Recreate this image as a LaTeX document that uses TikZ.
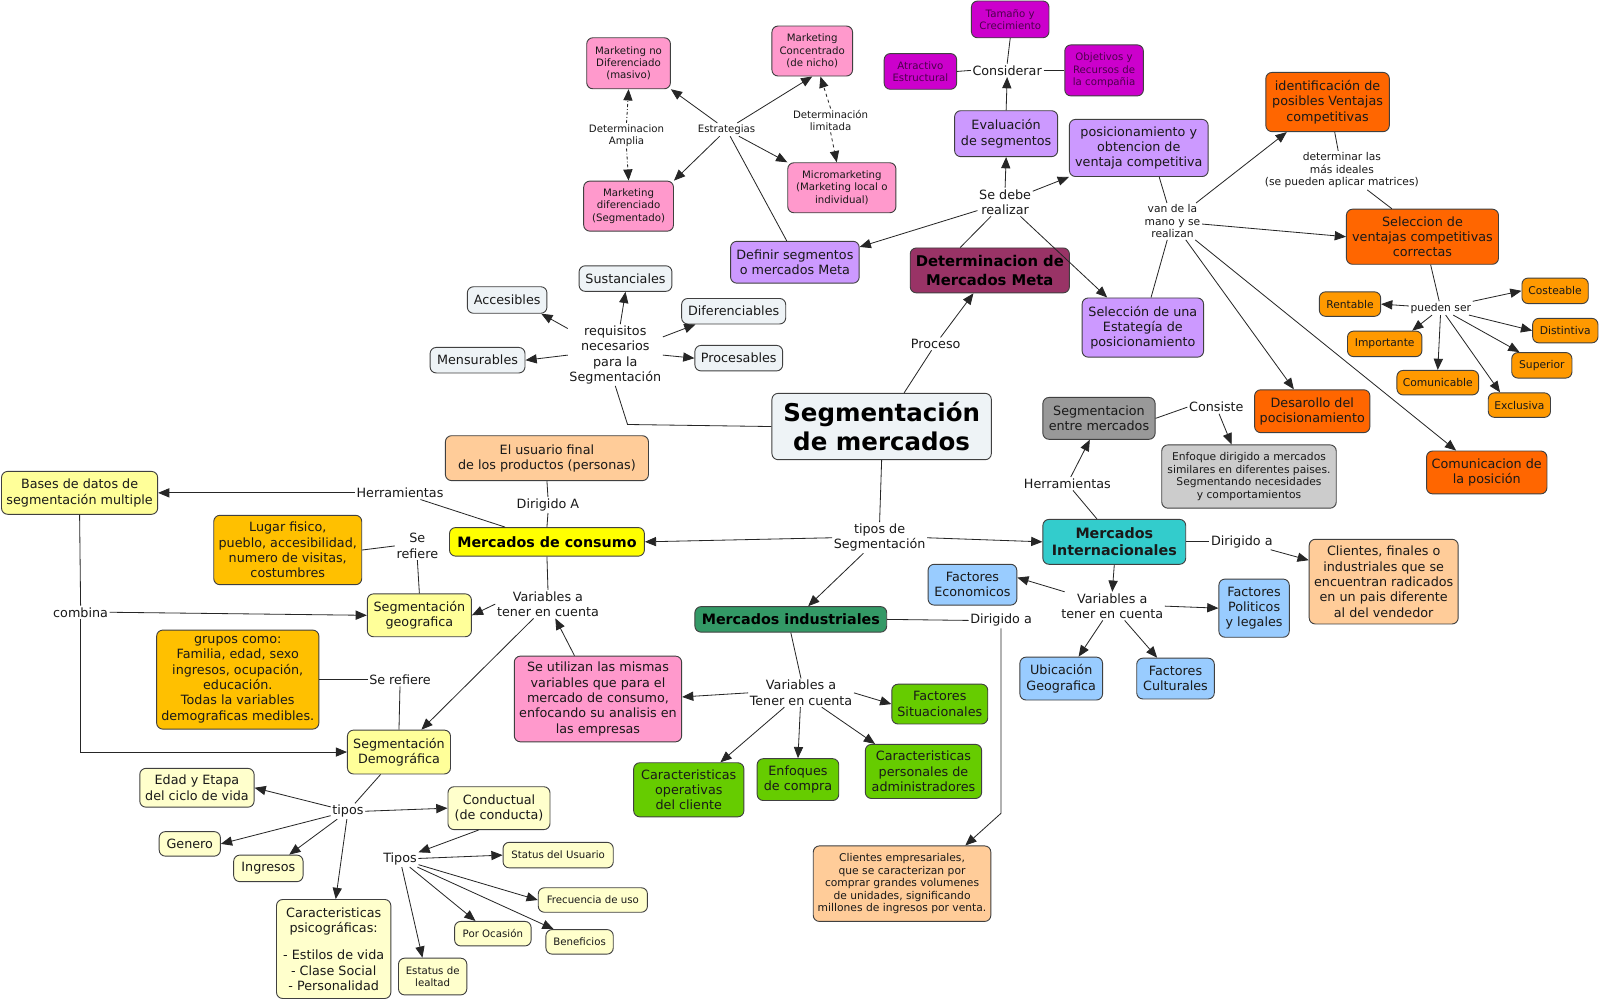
\documentclass[tikz,border=0pt]{standalone}
\usepackage{fontspec}
\setmainfont{DejaVu Sans}
\usetikzlibrary{arrows.meta,calc}
\definecolor{cPink}{HTML}{FF99CC}
\definecolor{cLav}{HTML}{CC99FF}
\definecolor{cMag}{HTML}{CC00CC}
\definecolor{cMagT}{HTML}{4D004D}
\definecolor{cDet}{HTML}{993366}
\definecolor{cLight}{HTML}{EEF3F6}
\definecolor{cOr}{HTML}{FF6600}
\definecolor{cLOr}{HTML}{FF9900}
\definecolor{cGray}{HTML}{999999}
\definecolor{cLGray}{HTML}{CCCCCC}
\definecolor{cTeal}{HTML}{33CCCC}
\definecolor{cPeach}{HTML}{FFCC99}
\definecolor{cLBlue}{HTML}{99CCFF}
\definecolor{cYel}{HTML}{FFFF00}
\definecolor{cLYel}{HTML}{FFFF99}
\definecolor{cAmb}{HTML}{FFC000}
\definecolor{cDGreen}{HTML}{339966}
\definecolor{cGreen}{HTML}{66CC00}
\definecolor{cPYel}{HTML}{FFFFCC}
\newcommand\fA{\fontsize{10}{12}\selectfont}
\newcommand\fB{\fontsize{10.5}{12.3}\selectfont}
\newcommand\fC{\fontsize{12.5}{15}\selectfont}
\newcommand\fE{\bfseries\fontsize{14}{17}\selectfont}
\begin{document}
\begin{tikzpicture}[x=1pt,y=-1pt,
  bx/.style={draw=black!75, rounded corners=6pt, align=center, inner sep=2pt, line width=0.9pt, text=black!90},
  lbl/.style={inner sep=1.5pt, align=center, text=black!90},
  ln/.style={line width=0.8pt, draw=black!85},
  arr/.style={ln, -{Triangle[length=11pt,width=9pt]}},
]
\fill[white] (0,0) rectangle (1568,982);
\useasboundingbox (0,0) rectangle (1568,982);

% ---------- top-left marketing cluster
\node[bx, fill=cPink, minimum width=82pt, minimum height=50pt, font=\fA] (mnd) at (616,62) {Marketing no\\Diferenciado\\(masivo)};
\node[bx, fill=cPink, minimum width=79pt, minimum height=49pt, font=\fA] (mcon) at (796,50) {Marketing\\Concentrado\\(de nicho)};
\node[bx, fill=cPink, minimum width=88pt, minimum height=49pt, font=\fA] (mdif) at (616,202) {Marketing\\diferenciado\\(Segmentado)};
\node[bx, fill=cPink, minimum width=106pt, minimum height=49pt, font=\fA] (micro) at (825,184) {Micromarketing\\(Marketing local o\\individual)};
\node[lbl, font=\fA] (lAmp) at (614,133) {Determinacion\\Amplia};
\node[lbl, font=\fA] (lEst) at (712,127) {Estrategias};
\node[lbl, font=\fA] (lLim) at (814,118) {Determinación\\limitada};

% ---------- evaluation cluster
\node[bx, fill=cMag, text=cMagT, minimum width=76pt, minimum height=36pt, font=\fA] (tam) at (990,19) {Tamaño y\\Crecimiento};
\node[bx, fill=cMag, text=cMagT, minimum width=71pt, minimum height=35pt, font=\fA] (atr) at (902,70) {Atractivo\\Estructural};
\node[lbl, font=\fC] (cons) at (987,69) {Considerar};
\node[bx, fill=cMag, text=cMagT, minimum width=77pt, minimum height=50pt, font=\fA] (obj) at (1082,69) {Objetivos y\\Recursos de\\la compañia};
\node[bx, fill=cLav, minimum width=101pt, minimum height=45pt, font=\fC] (eval) at (986,131) {Evaluación\\de segmentos};
\node[bx, fill=cLav, minimum width=136pt, minimum height=56pt, font=\fC] (pos) at (1116,145) {posicionamiento y\\obtencion de\\ventaja competitiva};
\node[lbl, font=\fC] (sdr) at (985,198) {Se debe\\realizar};
\node[bx, fill=cLav, minimum width=126pt, minimum height=41pt, font=\fC] (def) at (779,257) {Definir segmentos\\o mercados Meta};
\node[bx, fill=cDet, text=black, minimum width=156pt, minimum height=44pt, font=\bfseries\fontsize{14.5}{18}\selectfont] (det) at (970,265) {Determinacion de\\Mercados Meta};
\node[bx, fill=cLav, minimum width=119pt, minimum height=58pt, font=\fC] (sel) at (1120,321) {Selección de una\\Estategía de\\posicionamiento};

% ---------- right positioning cluster
\node[bx, fill=cOr, minimum width=121pt, minimum height=58pt, font=\fC] (ident) at (1301,100) {identificación de\\posibles Ventajas\\competitivas};
\node[lbl, font=\fB] (ldet) at (1315,167) {determinar las\\más ideales\\(se pueden aplicar matrices)};
\node[lbl, font=\fB] (van) at (1149,217) {van de la\\mano y se\\realizan};
\node[bx, fill=cOr, minimum width=149pt, minimum height=54pt, font=\fC] (selv) at (1394,232) {Seleccion de\\ventajas competitivas\\correctas};
\node[bx, fill=cLOr, minimum width=60pt, minimum height=24pt, font=\fB] (rent) at (1323,298) {Rentable};
\node[lbl, font=\fB] (pds) at (1412,302) {pueden ser};
\node[bx, fill=cLOr, minimum width=65pt, minimum height=25pt, font=\fB] (cost) at (1524,285) {Costeable};
\node[bx, fill=cLOr, minimum width=64pt, minimum height=24pt, font=\fB] (dist) at (1534,324) {Distintiva};
\node[bx, fill=cLOr, minimum width=73pt, minimum height=25pt, font=\fB] (imp) at (1357,337) {Importante};
\node[bx, fill=cLOr, minimum width=59pt, minimum height=25pt, font=\fB] (sup) at (1511,358) {Superior};
\node[bx, fill=cLOr, minimum width=80pt, minimum height=24pt, font=\fB] (comu) at (1409,375) {Comunicable};
\node[bx, fill=cLOr, minimum width=61pt, minimum height=24pt, font=\fB] (excl) at (1489,397) {Exclusiva};
\node[bx, fill=cOr, minimum width=113pt, minimum height=42pt, font=\fC] (desa) at (1286,403) {Desarollo del\\pocisionamiento};
\node[bx, fill=cOr, minimum width=118pt, minimum height=42pt, font=\fC] (comp) at (1457,463) {Comunicacion de\\la posición};

% ---------- international markets
\node[bx, fill=cGray, minimum width=110pt, minimum height=41pt, font=\fC] (sem) at (1077,410) {Segmentacion\\entre mercados};
\node[lbl, font=\fC] (lcons) at (1192,399) {Consiste};
\node[bx, fill=cLGray, minimum width=171pt, minimum height=62pt, font=\fB] (enf) at (1224,467) {Enfoque dirigido a mercados\\similares en diferentes paises.\\Segmentando necesidades\\y comportamientos};
\node[lbl, font=\fC] (lher2) at (1046,474) {Herramientas};
\node[bx, fill=cTeal, minimum width=140pt, minimum height=44pt, font=\fE] (mi) at (1092,531) {Mercados\\Internacionales};
\node[lbl, font=\fC] (ldir2) at (1217,531) {Dirigido a};
\node[bx, fill=cPeach, minimum width=146pt, minimum height=83pt, font=\fC] (clf) at (1356,570) {Clientes, finales o\\industriales que se\\encuentran radicados\\en un pais diferente\\al del vendedor};
\node[bx, fill=cLBlue, minimum width=87pt, minimum height=40pt, font=\fC] (feco) at (953,573) {Factores\\Economicos};
\node[lbl, font=\fC] (lvar3) at (1090,594) {Variables a\\tener en cuenta};
\node[bx, fill=cLBlue, minimum width=69pt, minimum height=57pt, font=\fC] (fpol) at (1229,596) {Factores\\Politicos\\y legales};
\node[bx, fill=cLBlue, minimum width=81pt, minimum height=42pt, font=\fC] (ubi) at (1040,665) {Ubicación\\Geografica};
\node[bx, fill=cLBlue, minimum width=76pt, minimum height=40pt, font=\fC] (fcul) at (1152,665) {Factores\\Culturales};

% ---------- center
\node[bx, fill=cLight, text=black, minimum width=215pt, minimum height=65pt, font=\bfseries\fontsize{24}{28}\selectfont] (central) at (864,418) {Segmentación\\de mercados};
\node[lbl, font=\fC] (lpro) at (917,337) {Proceso};
\node[lbl, font=\fC] (req) at (603,348) {requisitos\\necesarios\\para la\\Segmentación};
\node[bx, fill=cLight, minimum width=91pt, minimum height=25pt, font=\fC] (sus) at (613,273) {Sustanciales};
\node[bx, fill=cLight, minimum width=78pt, minimum height=26pt, font=\fC] (acc) at (497,294) {Accesibles};
\node[bx, fill=cLight, minimum width=102pt, minimum height=25pt, font=\fC] (dif) at (719,305) {Diferenciables};
\node[bx, fill=cLight, minimum width=93pt, minimum height=25pt, font=\fC] (men) at (468,353) {Mensurables};
\node[bx, fill=cLight, minimum width=86pt, minimum height=25pt, font=\fC] (proc) at (724,351) {Procesables};
\node[lbl, font=\fC] (ltip) at (862,527) {tipos de\\Segmentación};

% ---------- consumer markets
\node[bx, fill=cYel, text=black, minimum width=191pt, minimum height=28pt, font=\fE] (mc) at (536,531) {Mercados de consumo};
\node[bx, fill=cPeach, minimum width=199pt, minimum height=44pt, font=\fC] (usu) at (536,449) {El usuario final\\de los productos (personas)};
\node[lbl, font=\fC] (ldirA) at (537,495) {Dirigido A};
\node[lbl, font=\fC] (lher1) at (392,483) {Herramientas};
\node[bx, fill=cLYel, minimum width=153pt, minimum height=42pt, font=\fC] (bases) at (78,483) {Bases de datos de\\segmentación multiple};
\node[bx, fill=cAmb, minimum width=145pt, minimum height=68pt, font=\fC] (lug) at (282,539) {Lugar fisico,\\pueblo, accesibilidad,\\numero de visitas,\\costumbres};
\node[lbl, font=\fC] (lsr1) at (409,535) {Se\\refiere};
\node[bx, fill=cLYel, minimum width=102pt, minimum height=42pt, font=\fC] (geo) at (411,603) {Segmentación\\geografica};
\node[lbl, font=\fC] (lvar1) at (537,592) {Variables a\\tener en cuenta};
\node[lbl, font=\fC] (lcomb) at (79,600) {combina};
\node[bx, fill=cAmb, minimum width=159pt, minimum height=97pt, font=\fC] (grp) at (233,666) {grupos como:\\Familia, edad, sexo\\ingresos, ocupación,\\educación.\\Todas la variables\\demograficas medibles.};
\node[lbl, font=\fC] (lsr2) at (392,666) {Se refiere};
\node[bx, fill=cPink, minimum width=164pt, minimum height=84pt, font=\fC] (util) at (586,685) {Se utilizan las mismas\\variables que para el\\mercado de consumo,\\enfocando su analisis en\\las empresas};
\node[bx, fill=cLYel, minimum width=101pt, minimum height=43pt, font=\fC] (dem) at (391,737) {Segmentación\\Demográfica};

% ---------- industrial markets
\node[bx, fill=cDGreen, text=black, minimum width=188pt, minimum height=25pt, font=\fE] (mind) at (775,607) {Mercados industriales};
\node[lbl, font=\fC] (ldir3) at (981,608) {Dirigido a};
\node[lbl, font=\fC] (lvar2) at (785,679) {Variables a\\Tener en cuenta};
\node[bx, fill=cGreen, minimum width=94pt, minimum height=39pt, font=\fC] (fsit) at (921,690) {Factores\\Situacionales};
\node[bx, fill=cGreen, minimum width=108pt, minimum height=53pt, font=\fC] (cop) at (675,774) {Caracteristicas\\operativas\\del cliente};
\node[bx, fill=cGreen, minimum width=80pt, minimum height=41pt, font=\fC] (enfc) at (782,764) {Enfoques\\de compra};
\node[bx, fill=cGreen, minimum width=114pt, minimum height=53pt, font=\fC] (cper) at (905,756) {Caracteristicas\\personales de\\administradores};
\node[bx, fill=cPeach, minimum width=174pt, minimum height=74pt, font=\fB] (cemp) at (884,866) {Clientes empresariales,\\que se caracterizan por\\comprar grandes volumenes\\de unidades, significando\\millones de ingresos por venta.};

% ---------- demographic details
\node[bx, fill=cPYel, minimum width=112pt, minimum height=38pt, font=\fC] (edad) at (193,772) {Edad y Etapa\\del ciclo de vida};
\node[lbl, font=\fC] (ltipos) at (341,795) {tipos};
\node[bx, fill=cPYel, minimum width=100pt, minimum height=42pt, font=\fC] (cond) at (489,792) {Conductual\\(de conducta)};
\node[bx, fill=cPYel, minimum width=60pt, minimum height=24pt, font=\fC] (gen) at (186,827) {Genero};
\node[bx, fill=cPYel, minimum width=68pt, minimum height=26pt, font=\fC] (ing) at (263,851) {Ingresos};
\node[lbl, font=\fC] (lTipos) at (392,842) {Tipos};
\node[bx, fill=cPYel, minimum width=108pt, minimum height=25pt, font=\fA] (stat) at (547,838) {Status del Usuario};
\node[bx, fill=cPYel, minimum width=107pt, minimum height=24pt, font=\fA] (frec) at (581,882) {Frecuencia de uso};
\node[bx, fill=cPYel, minimum width=75pt, minimum height=24pt, font=\fA] (oca) at (483,915) {Por Ocasión};
\node[bx, fill=cPYel, minimum width=66pt, minimum height=24pt, font=\fA] (ben) at (568,923) {Beneficios};
\node[bx, fill=cPYel, minimum width=112pt, minimum height=97pt, font=\fC] (psi) at (327,930) {Caracteristicas\\psicográficas:\\[12pt]- Estilos de vida\\- Clase Social\\- Personalidad};
\node[bx, fill=cPYel, minimum width=67pt, minimum height=36pt, font=\fA] (leal) at (424,957) {Estatus de\\lealtad};

% ================= connectors
% marketing strategies
\draw[ln] ($(def.north)+(-8,0)$) -- (lEst);
\draw[arr] (lEst) -- (mnd.south east);
\draw[arr] (lEst) -- (mcon.south);
\draw[arr] (lEst) -- (mdif.north east);
\draw[arr] (lEst) -- (micro.north west);
\draw[arr, dash dot] (lAmp.north) -- (mnd.south);
\draw[arr, dash dot] (lAmp.south) -- (mdif.north);
\draw[arr, dashed] (lLim.north) -- ($(mcon.south)+(8,0)$);
\draw[arr, dashed] (lLim.south) -- ($(micro.north)+(-5,0)$);

% evaluation
\draw[ln] (tam.south) -- (cons.north);
\draw[ln] (atr.east) -- (cons.west);
\draw[ln] (cons.east) -- (obj.west);
\draw[arr] (eval.north) -- (cons.south);
\draw[ln] ($(det.north)+(-29,0)$) -- (sdr);
\draw[arr] (sdr.north) -- (eval.south);
\draw[arr] (sdr) -- ($(def.east)+(0,-15)$);
\draw[arr] (sdr) -- (pos.south west);
\draw[arr] (sdr) -- ($(sel.north west)+(25,0)$);
\draw[ln] ($(central.north)+(22,0)$) -- (lpro);
\draw[arr] (lpro) -- ($(det.south)+(-16,0)$);

% positioning
\draw[ln] ($(pos.south)+(20,0)$) -- (van);
\draw[ln] ($(sel.north)+(8,0)$) -- (van);
\draw[arr] (van) -- ($(ident.south west)+(21,0)$);
\draw[arr] (van) -- (selv.west);
\draw[arr] (van) -- ($(desa.north)+(-18,0)$);
\draw[arr] (van) -- ($(comp.north)+(-30,0)$);
\draw[ln] ($(ident.south)+(7,0)$) -- (ldet);
\draw[ln] (ldet) -- ($(selv.north)+(-30,0)$);
\draw[ln] ($(selv.south)+(8,0)$) -- (pds);
\draw[arr] (pds) -- (rent.east);
\draw[arr] (pds) -- (cost.west);
\draw[arr] (pds) -- (dist.west);
\draw[arr] (pds) -- ($(imp.north east)+(-10,0)$);
\draw[arr] (pds) -- ($(sup.north west)+(8,0)$);
\draw[arr] (pds) -- (comu.north);
\draw[arr] (pds) -- ($(excl.north west)+(12,0)$);

% requirements
\coordinate (b1) at (615,416);
\draw[ln] (central.west) -- (b1) -- (req.south);
\draw[arr] (req) -- (sus.south);
\draw[arr] (req) -- ($(acc.south east)+(-6,0)$);
\draw[arr] (req) -- ($(dif.south west)+(14,0)$);
\draw[arr] (req.west) -- (men.east);
\draw[arr] (req.east) -- (proc.west);

% types of segmentation
\draw[ln] (central.south) -- (ltip.north);
\draw[arr] (ltip.west) -- (mc.east);
\draw[arr] (ltip.east) -- (mi.west);
\draw[arr] (ltip) -- ($(mind.north)+(17,0)$);

% international
\draw[ln] ($(mi.north)+(-17,0)$) -- (lher2);
\draw[arr] (lher2) -- ($(sem.south)+(-9,0)$);
\draw[ln] (sem.east) -- (lcons.west);
\draw[arr] (lcons) -- ($(enf.north)+(-17,0)$);
\draw[ln] (mi.east) -- (ldir2.west);
\draw[arr] (ldir2) -- ($(clf.west)+(0,-21)$);
\draw[arr] (mi.south) -- (lvar3.north);
\draw[arr] (lvar3) -- ($(feco.east)+(0,-7)$);
\draw[arr] (lvar3.east) -- (fpol.west);
\draw[arr] (lvar3) -- ($(ubi.north)+(17,0)$);
\draw[arr] (lvar3) -- ($(fcul.north)+(-18,0)$);

% industrial
\draw[ln] (mind.east) -- (ldir3.west);
\coordinate (b2) at (981,797);
\draw[arr] (ldir3.south) -- (b2) -- ($(cemp.north)+(62,0)$);
\draw[ln] (mind.south) -- (lvar2.north);
\draw[arr] (lvar2.west) -- ($(util.east)+(0,-2)$);
\draw[arr] (lvar2.east) -- (fsit.west);
\draw[arr] (lvar2) -- ($(cop.north)+(31,0)$);
\draw[arr] (lvar2) -- (enfc.north);
\draw[arr] (lvar2) -- ($(cper.north west)+(10,0)$);

% consumer
\draw[ln] (mc.north) -- (ldirA.south);
\draw[ln] (ldirA.north) -- (usu.south);
\draw[ln] ($(mc.north)+(-41,0)$) -- (lher1);
\draw[arr] (lher1.west) -- (bases.east);
\draw[ln] (mc.south) -- (lvar1.north);
\draw[arr] (lvar1.west) -- (geo.east);
\draw[arr] (lvar1) -- ($(dem.north)+(22,0)$);
\draw[arr] ($(util.north)+(-23,0)$) -- (lvar1);
\draw[ln] (geo.north) -- (lsr1.south);
\draw[ln] (lsr1.west) -- (lug.east);
\draw[ln] (dem.north) -- (lsr2.south);
\draw[ln] (lsr2.west) -- (grp.east);
\draw[ln] (bases.south) -- (lcomb.north);
\draw[arr] (lcomb.east) -- (geo.west);
\draw[arr] (lcomb.south) |- (dem.west);

% demographic
\draw[ln] ($(dem.south)+(-18,0)$) -- (ltipos);
\draw[arr] (ltipos) -- (edad.east);
\draw[arr] (ltipos) -- (gen.east);
\draw[arr] (ltipos) -- ($(ing.north east)+(-14,0)$);
\draw[arr] (ltipos) -- ($(psi.north)+(2,0)$);
\draw[arr] (ltipos.east) -- (cond.west);
\draw[arr] ($(cond.south)+(-20,0)$) -- (lTipos);
\draw[arr] (lTipos) -- (stat.west);
\draw[arr] (lTipos) -- (frec.west);
\draw[arr] (lTipos) -- ($(oca.north)+(-17,0)$);
\draw[arr] (lTipos) -- ($(ben.north west)+(8,0)$);
\draw[arr] (lTipos) -- ($(leal.north)+(-10,0)$);
\end{tikzpicture}
\end{document}
